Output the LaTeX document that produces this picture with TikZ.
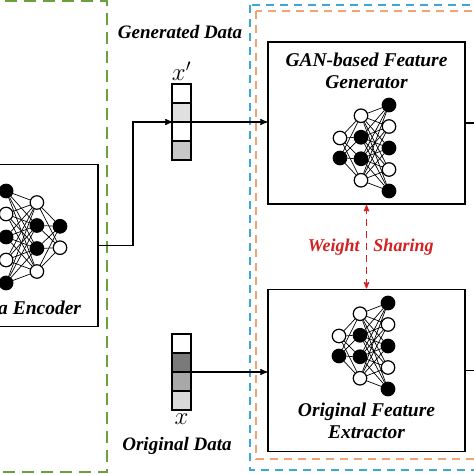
\documentclass[tikz,border=0pt]{standalone}
\usepackage{fontspec}
\setmainfont{Liberation Serif}
\usetikzlibrary{arrows,positioning}

\definecolor{encgreen}{RGB}{108,160,60}
\definecolor{outblue}{RGB}{60,168,216}
\definecolor{inorange}{RGB}{238,164,116}
\definecolor{sharered}{RGB}{212,32,32}

\begin{document}
\begin{tikzpicture}[x=1pt,y=-1pt,>=stealth',
    neuron/.style={circle,draw,line width=1.2pt,minimum size=13.5pt,inner sep=0pt},
    synapse/.style={line width=0.7pt},
    block/.style={rectangle,draw,line width=1.8pt,minimum width=197pt,minimum height=162pt},
    blocktitle/.style={font=\fontsize{19.5}{22}\selectfont\bfseries\itshape,align=center},
    datalabel/.style={font=\fontsize{19}{21}\selectfont\bfseries\itshape},
    sharelabel/.style={font=\fontsize{18}{20}\selectfont\bfseries\itshape},
    vecname/.style={font=\fontsize{26}{26}\selectfont},
    cell/.style={rectangle,draw,line width=1.5pt,minimum size=19pt,inner sep=0pt,outer sep=0pt},
    flow/.style={->,line width=1.4pt},
    fcnet/.pic={
      \foreach \f [count=\i] in {#1}
        \node[neuron,fill=\f] (-a\i) at (0,{(\i-1.5)*20}) {};
      \foreach \f [count=\i] in {white,black,black,white}
        \node[neuron,fill=\f] (-b\i) at (21,{(\i-2.5)*21.5}) {};
      \foreach \f [count=\i] in {black,white,black,white,black}
        \node[neuron,fill=\f] (-c\i) at (49,{(\i-3)*21.5}) {};
      \foreach \i in {1,2}
        \foreach \j in {1,...,4}
          \draw[synapse] (-a\i) -- (-b\j);
      \foreach \j in {1,...,4}
        \foreach \k in {1,...,5}
          \draw[synapse] (-b\j) -- (-c\k);
    }]
  \useasboundingbox (0,0) rectangle (474,474);
  \clip (0,0) rectangle (474,474);

  % dashed groups
  \draw[encgreen,line width=2.6pt,dash pattern=on 12pt off 7pt] (-20,1) rectangle (107,472);
  \draw[outblue,line width=2.2pt,dash pattern=on 8pt off 6pt] (250,5) rectangle (490,470);
  \draw[inorange,line width=2.2pt,dash pattern=on 8pt off 6pt] (256,11) rectangle (490,459);

  % blocks
  \node[block,minimum width=146pt] (enc) at (25,245.5) {};
  \node[block] (gen) at (366.5,123) {};
  \node[block] (ext) at (366.5,370.5) {};
  \node[blocktitle,above=9pt of enc.south] {Data Encoder};
  \node[blocktitle,below=8pt of gen.north] {GAN-based Feature\\Generator};
  \node[blocktitle,above=10pt of ext.south] {Original Feature\\Extractor};

  \pic[xscale=-1.1,yscale=1.07] (enet) at (60,237) {fcnet={black,white}};
  \pic (gnet) at (340,148) {fcnet={white,black}};
  \pic (xnet) at (339,346) {fcnet={white,black}};

  % data vectors
  \node[cell] (gd1) at (181.5,93.5) {};
  \node[cell,fill=black!12] (gd2) [below=0pt of gd1] {};
  \node[cell] (gd3) [below=0pt of gd2] {};
  \node[cell,fill=black!22] (gd4) [below=0pt of gd3] {};
  \node[cell] (od1) at (181.5,343.5) {};
  \node[cell,fill=black!52] (od2) [below=0pt of od1] {};
  \node[cell,fill=black!34] (od3) [below=0pt of od2] {};
  \node[cell,fill=black!15] (od4) [below=0pt of od3] {};
  \node[vecname] (xg) [above=0pt of gd1] {$x'$};
  \node[vecname] (xo) [below=0pt of od4] {$x$};
  \node[datalabel] at (180,32) {Generated Data};
  \node[datalabel] at (177,446) {Original Data};

  % connectors
  \coordinate (bend) at (133,245.5);
  \coordinate (genout) at (480,123);
  \coordinate (extout) at (480,370.5);
  \draw[flow] (enc.east) -- (bend) |- (gd2.south west);
  \draw[flow] (gd2.south east) -- (gd2.south east -| gen.west);
  \draw[flow] (od2.south east) -- (od2.south east -| ext.west);
  \draw[line width=1.4pt] (gen.east) -- (genout);
  \draw[line width=1.4pt] (ext.east) -- (extout);
  \draw[<->,sharered,line width=1.3pt,dash pattern=on 7pt off 5pt] (gen.south) -- (ext.north)
    node[midway,left=3pt,sharelabel] {Weight}
    node[midway,right=3pt,sharelabel] {Sharing};
\end{tikzpicture}
\end{document}
